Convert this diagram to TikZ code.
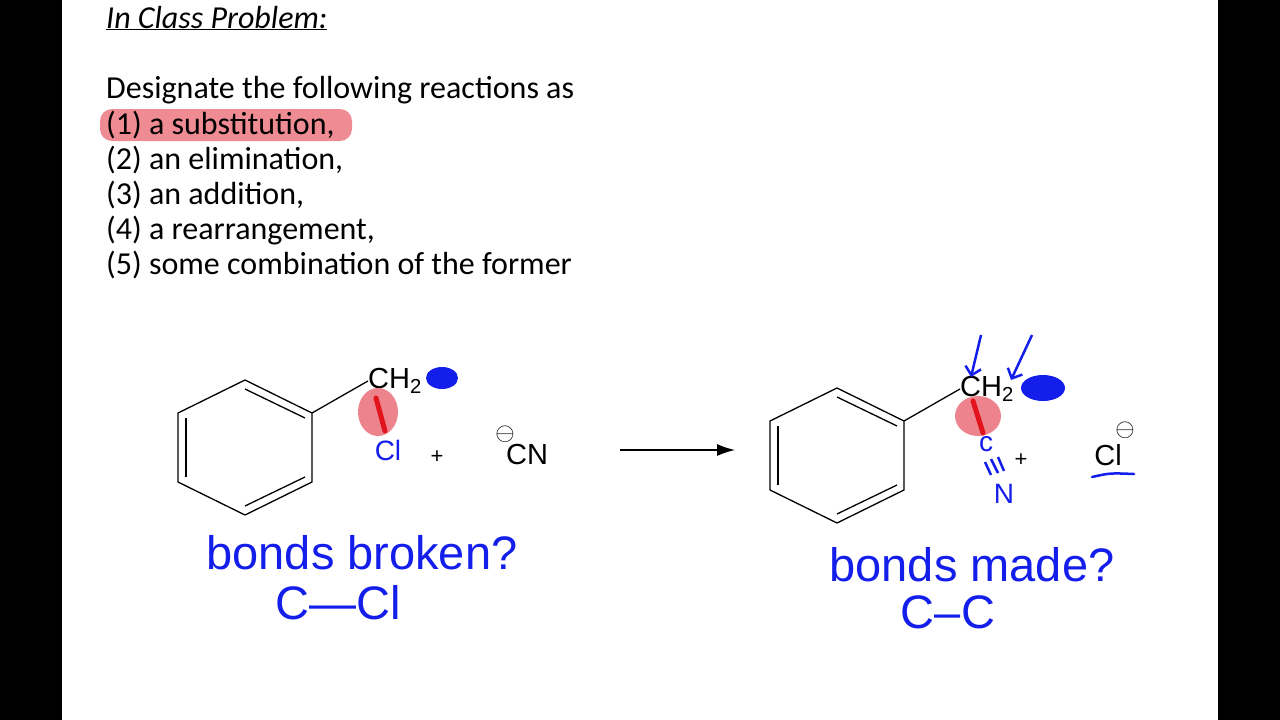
\documentclass[tikz,border=0pt]{standalone}
\usepackage{fontspec}
\setmainfont{Carlito}
\newfontfamily\arialf{Liberation Sans}
\newfontfamily\handf{Liberation Sans}
\usetikzlibrary{arrows.meta,calc}
\definecolor{pen}{RGB}{20,30,235}
\definecolor{hl}{RGB}{235,110,120}
\definecolor{rd}{RGB}{225,20,30}
\tikzset{bond/.style={line width=1.3pt,black},
  lbl/.style={font=\arialf\fontsize{29}{30}\selectfont,inner sep=0pt},
  hand/.style={font=\handf\fontsize{47}{48}\selectfont,text=pen,inner sep=0pt},
  txt/.style={font=\fontsize{32}{34}\selectfont,anchor=base west,inner sep=0pt}}
\begin{document}
\begin{tikzpicture}[x=1pt,y=-1pt]
\fill[black] (0,0) rectangle (1280,720);
\fill[white] (62,0) rectangle (1218,720);
\useasboundingbox (0,0) rectangle (1280,720);
% highlight
\fill[hl,opacity=0.8,rounded corners=12pt] (100,109) rectangle (352,141);
\node[txt,font=\itshape\fontsize{32}{34}\selectfont] (title) at (106,28) {\underline{In Class Problem:}};
\node[txt] (t0) at (106,98) {Designate the following reactions as};
\node[txt] (t1) at (106,134) {(1) a substitution,};
\node[txt] (t2) at (106,169) {(2) an elimination,};
\node[txt] (t3) at (106,204) {(3) an addition,};
\node[txt] (t4) at (106,239) {(4) a rearrangement,};
\node[txt] (t5) at (106,274) {(5) some combination of the former};
% left molecule
\coordinate (a1) at (245,380); \coordinate (a2) at (312,413); \coordinate (a3) at (312,482);
\coordinate (a4) at (245,515); \coordinate (a5) at (178,482); \coordinate (a6) at (178,413);
\draw[bond] (a1)--(a2)--(a3)--(a4)--(a5)--(a6)--cycle;
\draw[bond] ($(a1)+(0,9)$) -- ($(a2)+(-7,5)$);
\draw[bond] ($(a3)+(-7,-5)$) -- ($(a4)+(0,-9)$);
\draw[bond] (186,418) -- (186,477);
\node[lbl] (ch2a) at (395,381) {CH\textsubscript{2}};
\draw[bond] (a2) -- (ch2a.west);
\fill[hl,opacity=0.85] (378,412) ellipse (20 and 24);
\draw[rd,line width=5pt,line cap=round] (376,398) -- (385,431);
\fill[pen] (442,378) ellipse (16 and 11);
\node[hand,font=\handf\fontsize{28}{28}\selectfont] (cla) at (388,450) {Cl};
\node[lbl,font=\arialf\fontsize{22}{22}\selectfont] (plus1) at (437,457) {+};
\node[lbl] (cn) at (527,455) {CN};
\node[lbl,font=\arialf\fontsize{26}{26}\selectfont] (m1) at (505,434) {$\ominus$};
\coordinate (ar1) at (620,450); \coordinate (ar2) at (735,450);
\draw[line width=1.3pt,-{Latex[length=18pt,width=12pt]}] (ar1) -- (ar2);
% right molecule
\coordinate (b1) at (837,388); \coordinate (b2) at (904,421); \coordinate (b3) at (904,490);
\coordinate (b4) at (837,523); \coordinate (b5) at (770,490); \coordinate (b6) at (770,421);
\draw[bond] (b1)--(b2)--(b3)--(b4)--(b5)--(b6)--cycle;
\draw[bond] ($(b1)+(0,9)$) -- ($(b2)+(-7,5)$);
\draw[bond] ($(b3)+(-7,-5)$) -- ($(b4)+(0,-9)$);
\draw[bond] (778,426) -- (778,485);
\node[lbl] (ch2b) at (987,389) {CH\textsubscript{2}};
\draw[bond] (b2) -- (ch2b.west);
\fill[hl,opacity=0.85] (978,416) ellipse (23 and 20);
\draw[rd,line width=5pt,line cap=round] (973,401) -- (983,433);
\fill[pen] (1043,388) ellipse (22 and 13);
\node[hand,font=\handf\fontsize{28}{28}\selectfont] (cb) at (986,444) {c};
\draw[pen,line width=2.5pt] (985,462)--(991,475) (991,459)--(998,473) (998,457)--(1004,471);
\node[hand,font=\handf\fontsize{28}{28}\selectfont] (nb) at (1004,494) {N};
\node[lbl,font=\arialf\fontsize{22}{22}\selectfont] (plus2) at (1021,460) {+};
\node[lbl] (clb) at (1108,455) {Cl};
\node[lbl,font=\arialf\fontsize{26}{26}\selectfont] (m2) at (1125,430) {$\ominus$};
\draw[pen,line width=2.5pt,line cap=round] (1092,477) .. controls (1110,473) .. (1134,474);
\coordinate (p1) at (981,335); \coordinate (p2) at (1032,335);
\draw[pen,line width=2.5pt,-{Straight Barb[length=8pt]}] (p1) -- (971,377);
\draw[pen,line width=2.5pt,-{Straight Barb[length=8pt]}] (p2) -- (1011,380);
% handwriting
\node[hand] (bb) at (362,553) {bonds broken?};
\node[hand] (ccl) at (338,603) {C—Cl};
\node[hand] (bm) at (972,565) {bonds made?};
\node[hand] (cc) at (948,612) {C–C};
\end{tikzpicture}
\end{document}
